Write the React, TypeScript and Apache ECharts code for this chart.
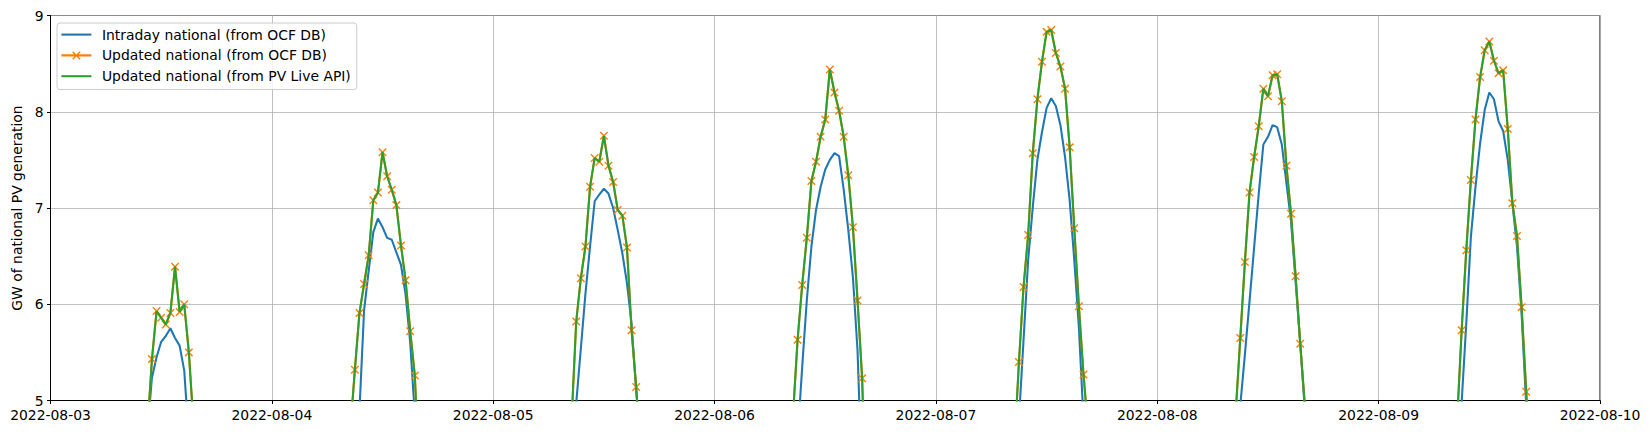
import { useEffect, useRef } from "react";
import * as echarts from "echarts";

// ---- data -------------------------------------------------------------
const DAYS = [
  "2022-08-03",
  "2022-08-04",
  "2022-08-05",
  "2022-08-06",
  "2022-08-07",
  "2022-08-08",
  "2022-08-09",
];
const X_TICK_LABELS = [...DAYS, "2022-08-10"];
const Y_TICKS = [5, 6, 7, 8, 9];

const SERIES_NAMES = [
  "Intraday national (from OCF DB)",
  "Updated national (from OCF DB)",
  "Updated national (from PV Live API)",
];

// Intraday national (from OCF DB): half-hourly GW, first slot per day
const intradayStart = ["10:30", "09:00", "08:30", "09:00", "09:00", "09:00", "09:00"];
const intradayAug03 = [4.67, 5.24, 5.45, 5.61, 5.67, 5.75, 5.65, 5.57, 5.31, 4.6];
const intradayAug04 = [4.0, 4.9, 5.94, 6.35, 6.75, 6.89, 6.8, 6.69, 6.67, 6.54, 6.41, 6.1, 5.6, 4.85];
const intradayAug05 = [4.0, 4.97, 5.54, 6.11, 6.6, 7.07, 7.14, 7.2, 7.15, 7.0, 6.77, 6.53, 6.22, 5.8, 5.1, 4.6];
const intradayAug06 = [4.6, 5.35, 6.04, 6.6, 6.98, 7.22, 7.4, 7.5, 7.57, 7.54, 7.19, 6.77, 6.28, 5.52, 4.1];
const intradayAug07 = [4.8, 5.63, 6.46, 7.01, 7.5, 7.79, 8.04, 8.14, 8.06, 7.86, 7.53, 7.08, 6.46, 5.76, 4.8];
const intradayAug08 = [4.95, 5.48, 6.03, 6.59, 7.15, 7.66, 7.74, 7.86, 7.84, 7.66, 7.26, 6.86, 6.23, 5.59, 4.9];
const intradayAug09 = [4.98, 5.8, 6.7, 7.22, 7.67, 8.02, 8.2, 8.13, 7.9, 7.8, 7.5, 7.05, 6.6, 5.9, 4.95];

// Updated national (from OCF DB): half-hourly GW, first slot per day
const updatedStart = ["10:30", "08:30", "08:30", "08:30", "08:30", "08:30", "08:30"];
const updatedAug03 = [4.69, 5.43, 5.93, 5.86, 5.79, 5.91, 6.39, 5.92, 6.0, 5.5, 4.76];
const updatedAug04 = [4.68, 5.32, 5.91, 6.21, 6.51, 7.08, 7.16, 7.58, 7.33, 7.19, 7.03, 6.61, 6.25, 5.72, 5.26, 4.2];
const updatedAug05 = [4.8, 5.82, 6.27, 6.6, 7.22, 7.52, 7.48, 7.75, 7.44, 7.27, 6.98, 6.92, 6.59, 5.73, 5.14, 4.4];
const updatedAug06 = [4.84, 5.63, 6.2, 6.69, 7.28, 7.48, 7.74, 7.92, 8.44, 8.2, 8.01, 7.74, 7.34, 6.8, 6.04, 5.23, 3.6];
const updatedAug07 = [4.5, 5.4, 6.18, 6.72, 7.57, 8.13, 8.52, 8.83, 8.85, 8.61, 8.47, 8.24, 7.63, 6.79, 5.98, 5.27, 4.7];
const updatedAug08 = [4.87, 5.65, 6.44, 7.16, 7.53, 7.85, 8.24, 8.16, 8.38, 8.39, 8.11, 7.44, 6.94, 6.29, 5.59, 4.95, 4.0];
const updatedAug09 = [4.77, 5.73, 6.56, 7.29, 7.92, 8.36, 8.64, 8.73, 8.53, 8.4, 8.43, 7.82, 7.05, 6.71, 5.97, 5.09, 4.3];

// Updated national (from PV Live API): half-hourly GW, first slot per day
const pvLiveStart = ["10:30", "08:30", "08:30", "08:30", "08:30", "08:30", "08:30"];
const pvLiveAug03 = [4.69, 5.43, 5.93, 5.86, 5.79, 5.91, 6.39, 5.92, 6.0, 5.5, 4.76];
const pvLiveAug04 = [4.68, 5.32, 5.91, 6.21, 6.51, 7.08, 7.16, 7.58, 7.33, 7.19, 7.03, 6.61, 6.25, 5.72, 5.26, 4.2];
const pvLiveAug05 = [4.8, 5.82, 6.27, 6.6, 7.22, 7.52, 7.48, 7.75, 7.44, 7.27, 6.98, 6.92, 6.59, 5.73, 5.14, 4.4];
const pvLiveAug06 = [4.84, 5.63, 6.2, 6.69, 7.28, 7.48, 7.74, 7.92, 8.44, 8.2, 8.01, 7.74, 7.34, 6.8, 6.04, 5.23, 3.6];
const pvLiveAug07 = [4.5, 5.4, 6.18, 6.72, 7.57, 8.13, 8.52, 8.83, 8.85, 8.61, 8.47, 8.24, 7.63, 6.79, 5.98, 5.27, 4.7];
const pvLiveAug08 = [4.87, 5.65, 6.44, 7.16, 7.53, 7.85, 8.24, 8.16, 8.38, 8.39, 8.11, 7.44, 6.94, 6.29, 5.59, 4.95, 4.0];
const pvLiveAug09 = [4.77, 5.73, 6.56, 7.29, 7.92, 8.36, 8.64, 8.73, 8.53, 8.4, 8.43, 7.82, 7.05, 6.71, 5.97, 5.09, 4.3];

// ---- helpers ----------------------------------------------------------
const HALF_HOUR = 30 * 60 * 1000;
const DAY_MS = 24 * 60 * 60 * 1000;

function buildSeries(starts: string[], days: number[][]): [number, number][] {
  const out: [number, number][] = [];
  days.forEach((vals, i) => {
    const t0 = Date.parse(`${DAYS[i]}T${starts[i]}:00Z`);
    vals.forEach((v, j) => out.push([t0 + j * HALF_HOUR, v]));
  });
  return out;
}

// 'x' marker as a filled outline (10x10 box)
const X_MARK =
  "path://M0,1.2L1.2,0L5,3.8L8.8,0L10,1.2L6.2,5L10,8.8L8.8,10L5,6.2L1.2,10L0,8.8L3.8,5Z";
// legend handles (30 x 10 box)
const LEGEND_LINE = "path://M0,3.96L30,3.96L30,6.04L0,6.04Z";
const LEGEND_LINE_X =
  "path://M0,3.96L30,3.96L30,6.04L0,6.04Z" +
  "M10.75,1.77L11.77,0.75L15,3.98L18.23,0.75L19.25,1.77L16.02,5L19.25,8.23L18.23,9.25L15,6.02L11.77,9.25L10.75,8.23L13.98,5Z";

const FONT = "DejaVu Sans";
const FS = 13.9;

export default function App() {
  const ref = useRef<HTMLDivElement>(null);

  useEffect(() => {
    if (!ref.current) return;
    const chart = echarts.init(ref.current, undefined, { renderer: "svg" });

    const intraday = buildSeries(intradayStart, [
      intradayAug03, intradayAug04, intradayAug05, intradayAug06,
      intradayAug07, intradayAug08, intradayAug09,
    ]);
    const updated = buildSeries(updatedStart, [
      updatedAug03, updatedAug04, updatedAug05, updatedAug06,
      updatedAug07, updatedAug08, updatedAug09,
    ]);
    const pvLive = buildSeries(pvLiveStart, [
      pvLiveAug03, pvLiveAug04, pvLiveAug05, pvLiveAug06,
      pvLiveAug07, pvLiveAug08, pvLiveAug09,
    ]);

    const xMin = Date.parse(`${X_TICK_LABELS[0]}T00:00:00Z`);
    const xMax = Date.parse(`${X_TICK_LABELS[X_TICK_LABELS.length - 1]}T00:00:00Z`);

    chart.setOption({
      animation: false,
      backgroundColor: "#ffffff",
      grid: {
        left: 50.5,
        right: 50,
        top: 15.5,
        bottom: 33.5,
        show: true,
        borderColor: "#000000",
        borderWidth: 1,
        backgroundColor: "#ffffff",
      },
      legend: {
        orient: "vertical",
        left: 57,
        top: 23,
        selectedMode: false,
        symbolKeepAspect: true,
        data: [
          { name: SERIES_NAMES[0], icon: LEGEND_LINE },
          { name: SERIES_NAMES[1], icon: LEGEND_LINE_X },
          { name: SERIES_NAMES[2], icon: LEGEND_LINE },
        ],
        itemWidth: 30,
        itemHeight: 10,
        itemGap: 6.8,
        padding: [4.6, 6, 6.3, 4.4],
        backgroundColor: "rgba(255,255,255,0.8)",
        borderColor: "#cccccc",
        borderWidth: 1,
        borderRadius: 3,
        textStyle: {
          fontFamily: FONT,
          fontSize: FS,
          color: "#000000",
          lineHeight: 14,
          padding: [0, 0, 0, 5.5],
        },
      },
      xAxis: {
        type: "value",
        min: xMin,
        max: xMax,
        interval: DAY_MS,
        axisLine: { show: true, onZero: false, lineStyle: { color: "#000", width: 1 } },
        axisTick: { show: true, length: 3.5, lineStyle: { color: "#000", width: 1 } },
        axisLabel: {
          margin: 7,
          fontFamily: FONT,
          fontSize: FS,
          color: "#000",
          showMinLabel: true,
          showMaxLabel: true,
          hideOverlap: false,
          formatter: (v: number) => new Date(v).toISOString().slice(0, 10),
        },
        splitLine: { show: true, lineStyle: { color: "#b0b0b0", width: 0.8 } },
      },
      yAxis: {
        type: "value",
        min: Y_TICKS[0],
        max: Y_TICKS[Y_TICKS.length - 1],
        interval: 1,
        name: "GW of national PV generation",
        nameLocation: "middle",
        nameGap: 25,
        nameTextStyle: { fontFamily: FONT, fontSize: FS, color: "#000" },
        axisLine: { show: true, lineStyle: { color: "#000", width: 1 } },
        axisTick: { show: true, length: 3.5, lineStyle: { color: "#000", width: 1 } },
        axisLabel: { margin: 7, fontFamily: FONT, fontSize: FS, color: "#000" },
        splitLine: { show: true, lineStyle: { color: "#b0b0b0", width: 0.8 } },
      },
      series: [
        {
          name: SERIES_NAMES[0],
          type: "line",
          data: intraday,
          symbol: "none",
          clip: true,
          color: "#1f77b4",
          lineStyle: { color: "#1f77b4", width: 2.08 },
          z: 2,
        },
        {
          name: SERIES_NAMES[1],
          type: "line",
          data: updated,
          symbol: X_MARK,
          symbolSize: 8.5,
          showSymbol: true,
          showAllSymbol: true,
          clip: true,
          color: "#ff7f0e",
          itemStyle: { color: "#ff7f0e", borderWidth: 0 },
          lineStyle: { color: "#ff7f0e", width: 2.08 },
          z: 3,
        },
        {
          name: SERIES_NAMES[2],
          type: "line",
          data: pvLive,
          symbol: "none",
          clip: true,
          color: "#2ca02c",
          lineStyle: { color: "#2ca02c", width: 2.08 },
          z: 4,
        },
      ],
    });

    return () => chart.dispose();
  }, []);

  return (
    <div
      ref={ref}
      style={{ position: "fixed", left: 0, top: 0, width: 1650, height: 434 }}
    />
  );
}
